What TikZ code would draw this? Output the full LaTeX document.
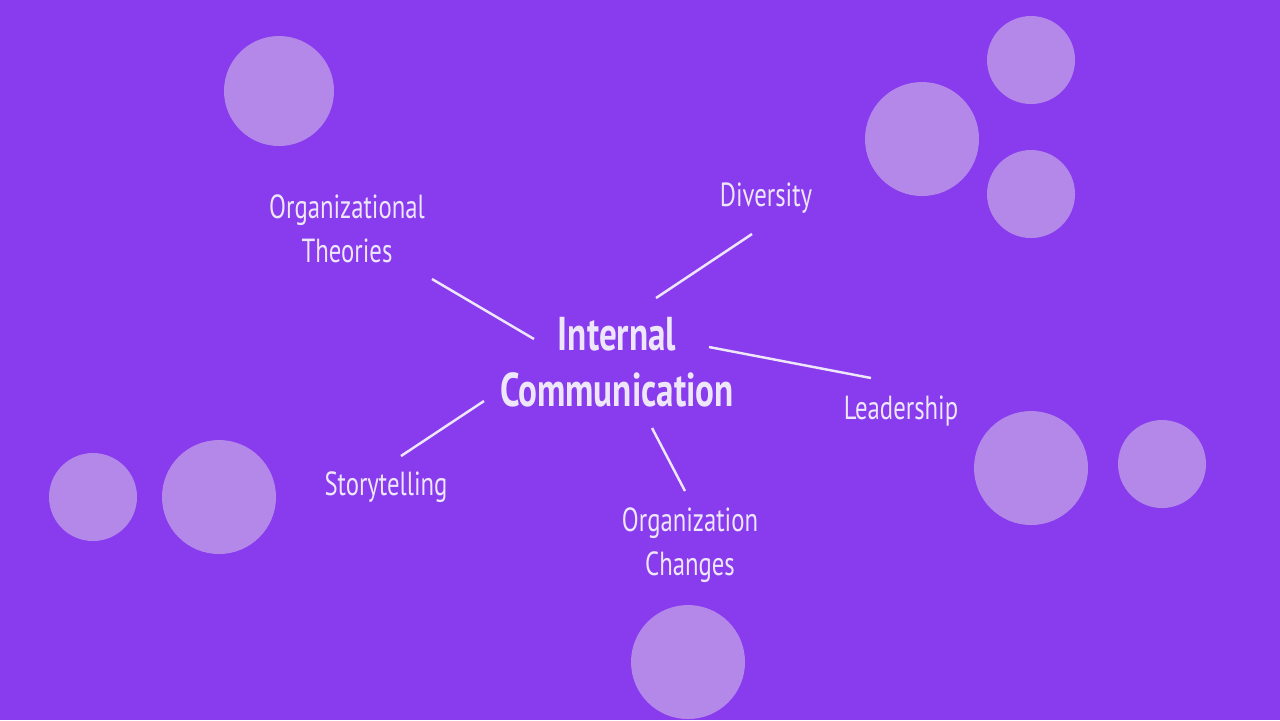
\documentclass[tikz,border=0pt]{standalone}
\usepackage{fontspec}
\setmainfont{PT Sans}
\newfontfamily\narrowfont[FakeStretch=0.74]{PT Sans}
\definecolor{bg}{RGB}{137,59,238}
\definecolor{blob}{RGB}{179,136,232}
\definecolor{ink}{RGB}{238,230,250}
\usetikzlibrary{positioning}
\begin{document}
\begin{tikzpicture}[x=0.01cm,y=-0.01cm,
  topic/.style={text=ink,align=center,font=\narrowfont\fontsize{9.5}{12.5}\selectfont},
  hub/.style={text=ink,align=center,font=\narrowfont\fontsize{13.5}{16}\selectfont\bfseries},
  link/.style={draw=ink,line width=0.7pt}]
\fill[bg] (0,0) rectangle (1280,720);
\useasboundingbox (0,0) rectangle (1280,720);
%decorative circles
\foreach \cx/\cy/\r in {279/91/55,1031/60/44,922/139/57,1031/194/44,93/497/44,219/497/57,1031/468/57,1162/464/44,688/662/57}{
  \fill[blob] (\cx,\cy) circle (\r);
}
%hub and topics
\node (ic) at (617,362) [hub] {Internal\\Communication};
\node (ot) at (347,229) [topic] {Organizational\\Theories};
\node (dv) at (766,198) [topic] {Diversity};
\node (ld) at (901,411) [topic] {Leadership};
\node (st) at (386,487) [topic] {Storytelling};
\node (oc) at (690,545) [topic] {Organization\\Changes};
%line ends
\coordinate (ot1) at (432,279); \coordinate (ot2) at (534,339);
\coordinate (dv1) at (752,234); \coordinate (dv2) at (656,298);
\coordinate (ld1) at (871,378); \coordinate (ld2) at (709,347);
\coordinate (st1) at (401,456); \coordinate (st2) at (484,401);
\coordinate (oc1) at (685,491); \coordinate (oc2) at (652,428);
\foreach \t in {ot,dv,ld,st,oc}{
  \draw[link] (\t1) -- (\t2);
}
\end{tikzpicture}
\end{document}
